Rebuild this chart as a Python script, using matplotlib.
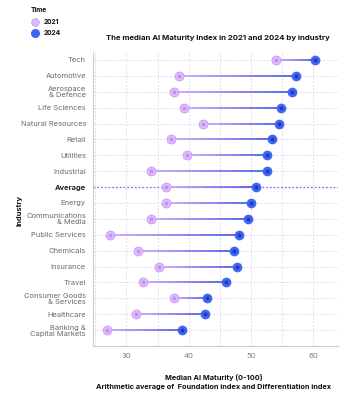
import numpy as np
import matplotlib
matplotlib.use("Agg")
import matplotlib.pyplot as plt
from matplotlib.collections import LineCollection
from matplotlib.colors import LinearSegmentedColormap

plt.rcParams['font.family'] = ['Inter', 'DejaVu Sans']

# Data
industries = ["Tech", "Automotive", "Aerospace\n& Defence", "Life Sciences",
              "Natural Resources", "Retail", "Utilities", "Industrial", "Average",
              "Energy", "Communications\n& Media", "Public Services", "Chemicals",
              "Insurance", "Travel", "Consumer Goods\n& Services", "Healthcare",
              "Banking &\nCapital Markets"]
values_2021 = [54.1, 38.4, 37.6, 39.3, 42.3, 37.2, 39.8, 34.0, 36.4,
               36.4, 34.0, 27.4, 31.9, 35.2, 32.7, 37.6, 31.5, 26.8]
values_2024 = [60.3, 57.3, 56.6, 54.9, 54.5, 53.4, 52.6, 52.6, 50.8,
               50.0, 49.5, 48.1, 47.3, 47.8, 46.0, 43.0, 42.7, 39.0]
xticks = [30, 40, 50, 60]

c21 = "#dcbcfb"
c21_edge = "#c48ef5"
c24 = "#3f63f2"
grid_c = "#dccbf5"
cmap = LinearSegmentedColormap.from_list("grad", ["#cfa6f7", "#4b5ee6"])

fig = plt.figure(figsize=(3.56, 4.0), dpi=100)
ax = fig.add_axes([0.261, 0.135, 0.688, 0.735])

y = np.arange(len(industries))

# vertical grid
for gx in range(25, 65, 5):
    ax.axvline(gx, color=grid_c, lw=0.6, ls=(0, (2, 2)), zorder=0)
# row grid
for i, name in enumerate(industries):
    if name == "Average":
        ax.axhline(i, color="#a55ef0", lw=0.9, ls=(0, (1.5, 1.5)), zorder=1)
    else:
        ax.axhline(i, color=grid_c, lw=0.6, ls=(0, (2, 2)), zorder=0)

# gradient connectors
for i, (a, b) in enumerate(zip(values_2021, values_2024)):
    xs = np.linspace(a, b, 40)
    pts = np.array([xs, np.full_like(xs, i)]).T.reshape(-1, 1, 2)
    segs = np.concatenate([pts[:-1], pts[1:]], axis=1)
    lc = LineCollection(segs, cmap=cmap, linewidths=1.3, zorder=2)
    lc.set_array(np.linspace(0, 1, len(segs)))
    ax.add_collection(lc)

ax.scatter(values_2021, y, s=42, color=c21, edgecolor=c21_edge, linewidth=0.5, zorder=3)
ax.scatter(values_2021, y, s=3, color=c21_edge, zorder=4)
ax.scatter(values_2024, y, s=42, color=c24, edgecolor=c24, linewidth=0.5, zorder=3)
ax.scatter(values_2024, y, s=3, color="#1d3bb8", zorder=4)

ax.set_xlim(24.6, 64)
ax.set_ylim(18.0, -0.5)
ax.set_yticks(y)
ax.set_yticklabels(industries, fontsize=5.4, color="#6a6a6a", linespacing=1.0)
for lab in ax.get_yticklabels():
    if lab.get_text() == "Average":
        lab.set_fontweight("bold")
        lab.set_color("#222222")
ax.set_xticks(xticks)
ax.set_xticklabels([str(t) for t in xticks], fontsize=5.6, color="#808080")
ax.tick_params(length=0, pad=5)

for s in ["top", "right"]:
    ax.spines[s].set_visible(False)
ax.spines["left"].set_color("#cccccc")
ax.spines["bottom"].set_color("#cccccc")
ax.spines["left"].set_linewidth(0.8)
ax.spines["bottom"].set_linewidth(0.8)

fig.text(0.612, 0.905, "The median AI Maturity Index in 2021 and 2024 by industry",
         ha="center", va="center", fontsize=5.6, fontweight="bold", color="#111111")
fig.text(0.055, 0.475, "Industry", rotation=90, ha="center", va="center",
         fontsize=5.5, fontweight="bold", color="#111111")
fig.text(0.6, 0.057, "Median AI Maturity (0-100)", ha="center", va="center",
         fontsize=5.3, fontweight="bold", color="#111111")
fig.text(0.6, 0.032, "Arithmetic average of  Foundation index and Differentiation index",
         ha="center", va="center", fontsize=5.3, fontweight="bold", color="#111111")

# legend
lax = fig.add_axes([0, 0, 1, 1], facecolor="none")
lax.set_xlim(0, 1)
lax.set_ylim(0, 1)
lax.axis("off")
lax.text(0.085, 0.975, "Time", ha="left", va="center", fontsize=4.8, fontweight="bold", color="#111111")
lax.scatter([0.098], [0.945], s=30, color=c21, edgecolor=c21_edge, linewidth=0.5)
lax.scatter([0.098], [0.918], s=30, color=c24)
lax.text(0.122, 0.945, "2021", va="center", fontsize=4.8, fontweight="bold", color="#111111")
lax.text(0.122, 0.918, "2024", va="center", fontsize=4.8, fontweight="bold", color="#111111")

fig.savefig("out.png", dpi=100)
